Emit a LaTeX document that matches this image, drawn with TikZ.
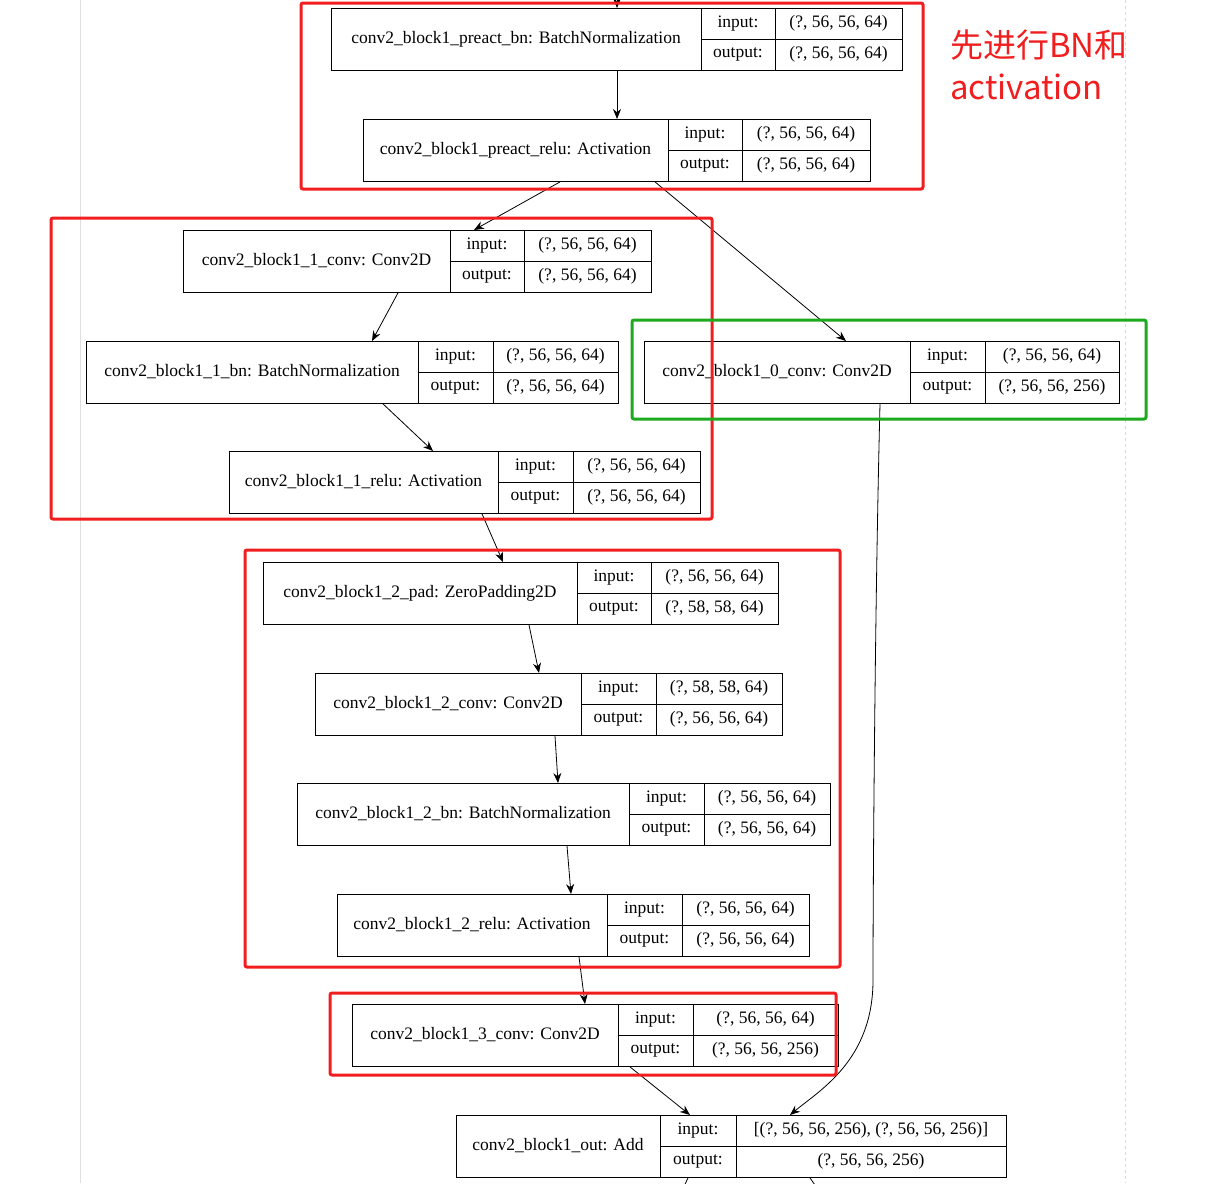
\documentclass[tikz,border=0pt]{standalone}
\usepackage{fontspec}
\setmainfont{Liberation Serif}
\newfontfamily\cjk{Noto Sans CJK SC}
\usetikzlibrary{arrows.meta}
\definecolor{rb}{RGB}{240,30,30}
\definecolor{gb}{RGB}{30,170,30}
\tikzset{
 rec/.style={draw,line width=0.9pt,anchor=north west,inner sep=0pt,minimum height=62pt},
 tx/.style={font=\fontsize{17.5}{19}\selectfont,inner sep=0pt},
 arr/.style={line width=0.8pt,-{Stealth[length=10pt,width=8pt]}},
 hl/.style={line width=3pt,rounded corners=2pt},
}
\newcommand\rec[9]{%
 \node[rec,minimum width={(#5-#2)*1pt}] (#1) at (#2,#6) {};
 \draw[line width=0.9pt] (#3,#6) -- (#3,{#6+62}) (#4,#6) -- (#4,{#6+62}) (#3,{#6+31}) -- (#5,{#6+31});
 \node[tx] at ({(#2+#3)/2},{#6+31}) {#7};
 \node[tx] at ({(#3+#4)/2},{#6+15.5}) {input:};
 \node[tx] at ({(#3+#4)/2},{#6+46.5}) {output:};
 \node[tx] at ({(#4+#5)/2},{#6+15.5}) {#8};
 \node[tx] at ({(#4+#5)/2},{#6+46.5}) {#9};
}
\begin{document}
\begin{tikzpicture}[x=1pt,y=-1pt]
\useasboundingbox[fill=white] (0,0) rectangle (1212,1183);
\draw[gray!25] (80,0) -- (80,1183);
\draw[gray!30,dashed] (1125,0) -- (1125,1183);
\rec{pbn}{331}{701}{775}{902}{8}{conv2\_block1\_preact\_bn: BatchNormalization}{(?, 56, 56, 64)}{(?, 56, 56, 64)}
\rec{prelu}{363}{668}{742}{870}{119}{conv2\_block1\_preact\_relu: Activation}{(?, 56, 56, 64)}{(?, 56, 56, 64)}
\rec{c1}{183}{450}{524}{651}{230}{conv2\_block1\_1\_conv: Conv2D}{(?, 56, 56, 64)}{(?, 56, 56, 64)}
\rec{b1}{86}{418}{493}{618}{341}{conv2\_block1\_1\_bn: BatchNormalization}{(?, 56, 56, 64)}{(?, 56, 56, 64)}
\rec{r1}{229}{498}{573}{700}{451}{conv2\_block1\_1\_relu: Activation}{(?, 56, 56, 64)}{(?, 56, 56, 64)}
\rec{c0}{644}{910}{985}{1119}{341}{conv2\_block1\_0\_conv: Conv2D}{(?, 56, 56, 64)}{(?, 56, 56, 256)}
\rec{pad}{263}{577}{651}{778}{562}{conv2\_block1\_2\_pad: ZeroPadding2D}{(?, 56, 56, 64)}{(?, 58, 58, 64)}
\rec{c2}{315}{581}{656}{782}{673}{conv2\_block1\_2\_conv: Conv2D}{(?, 58, 58, 64)}{(?, 56, 56, 64)}
\rec{bn2}{297}{629}{704}{830}{783}{conv2\_block1\_2\_bn: BatchNormalization}{(?, 56, 56, 64)}{(?, 56, 56, 64)}
\rec{r2}{337}{607}{682}{809}{894}{conv2\_block1\_2\_relu: Activation}{(?, 56, 56, 64)}{(?, 56, 56, 64)}
\rec{c3}{352}{618}{693}{838}{1004}{conv2\_block1\_3\_conv: Conv2D}{(?, 56, 56, 64)}{(?, 56, 56, 256)}
\rec{out}{456}{660}{736}{1006}{1115}{conv2\_block1\_out: Add}{[(?, 56, 56, 256), (?, 56, 56, 256)]}{(?, 56, 56, 256)}
\coordinate (top) at (617,-20);
\draw[arr] (top) -- ([xshift=286pt]pbn.north west);
\draw[arr] ([xshift=286pt]pbn.south west) -- ([xshift=254pt]prelu.north west);
\draw[arr] ([xshift=197pt]prelu.south west) -- ([xshift=291pt]c1.north west);
\draw[arr] ([xshift=292pt]prelu.south west) -- ([xshift=202pt]c0.north west);
\draw[arr] ([xshift=215pt]c1.south west) -- ([xshift=286pt]b1.north west);
\draw[arr] ([xshift=297pt]b1.south west) -- ([xshift=204pt]r1.north west);
\draw[arr] ([xshift=253pt]r1.south west) -- ([xshift=240pt]pad.north west);
\draw[arr] ([xshift=266pt]pad.south west) -- ([xshift=224pt]c2.north west);
\draw[arr] ([xshift=240pt]c2.south west) -- ([xshift=261pt]bn2.north west);
\draw[arr] ([xshift=270pt]bn2.south west) -- ([xshift=234pt]r2.north west);
\draw[arr] ([xshift=242pt]r2.south west) -- ([xshift=233pt]c3.north west);
\draw[arr] ([xshift=278pt]c3.south west) -- ([xshift=234pt]out.north west);
\draw[arr] ([xshift=236pt]c0.south west) .. controls (875,600) and (873,880) .. (873,980) .. controls (873,1060) and (820,1090) .. ([xshift=334pt]out.north west);
\coordinate (b1e) at (680,1195); \coordinate (b2e) at (822,1195);
\draw[line width=0.8pt] ([xshift=232pt]out.south west) -- (b1e);
\draw[line width=0.8pt] ([xshift=354pt]out.south west) -- (b2e);
\draw[hl,rb] (301,3) rectangle (923,189);
\draw[hl,rb] (51,218) rectangle (712,519);
\draw[hl,rb] (245,550) rectangle (840,967);
\draw[hl,rb] (330,993) rectangle (836,1075);
\draw[hl,gb] (632,320) rectangle (1146,419);
\node[anchor=north west,text=rb,font=\fontsize{33}{42}\selectfont\cjk,align=left,inner sep=0pt] (ann) at (950,30) {先进行BN和\\activation};
\end{tikzpicture}
\end{document}
